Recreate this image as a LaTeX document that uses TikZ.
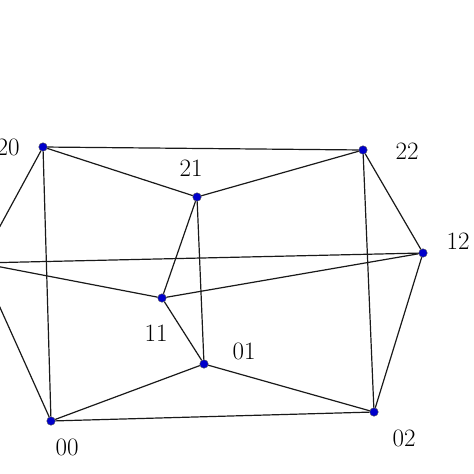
\documentclass[tikz,border=0pt]{standalone}
\begin{document}
\begin{tikzpicture}[x=1pt,y=-1pt,
  vtx/.style={circle,fill=blue!80!black,draw=black!70,line width=0.4pt,inner sep=0pt,minimum size=8.5pt},
  lbl/.style={font=\fontsize{25}{30}\selectfont},
  edge/.style={line width=1.2pt,black!90}]
\useasboundingbox (0,0) rectangle (474,474);
\clip (0,0) rectangle (474,474);
\node[vtx] (20) at (43,147) {};
\node[vtx] (21) at (197,197) {};
\node[vtx] (22) at (363,150) {};
\node[vtx] (12) at (423,253) {};
\node[vtx] (11) at (162,298) {};
\node[vtx] (01) at (204,364) {};
\node[vtx] (00) at (51,421) {};
\node[vtx] (02) at (374,412) {};
\coordinate (10) at (-20,263);
\draw[edge] (20) -- (22);
\draw[edge] (20) -- (21);
\draw[edge] (20) -- (00);
\draw[edge] (20) -- (10);
\draw[edge] (21) -- (22);
\draw[edge] (21) -- (11);
\draw[edge] (21) -- (01);
\draw[edge] (22) -- (12);
\draw[edge] (22) -- (02);
\draw[edge] (12) -- (10);
\draw[edge] (12) -- (11);
\draw[edge] (12) -- (02);
\draw[edge] (11) -- (10);
\draw[edge] (11) -- (01);
\draw[edge] (01) -- (00);
\draw[edge] (01) -- (02);
\draw[edge] (00) -- (02);
\draw[edge] (00) -- (10);
\node[lbl] (l20) at (8,147) {20};
\node[lbl] (l21) at (191,168) {21};
\node[lbl] (l22) at (407,151) {22};
\node[lbl] (l12) at (458,241) {12};
\node[lbl] (l11) at (156,333) {11};
\node[lbl] (l01) at (244,351) {01};
\node[lbl] (l00) at (67,447) {00};
\node[lbl] (l02) at (404,438) {02};
\end{tikzpicture}
\end{document}
